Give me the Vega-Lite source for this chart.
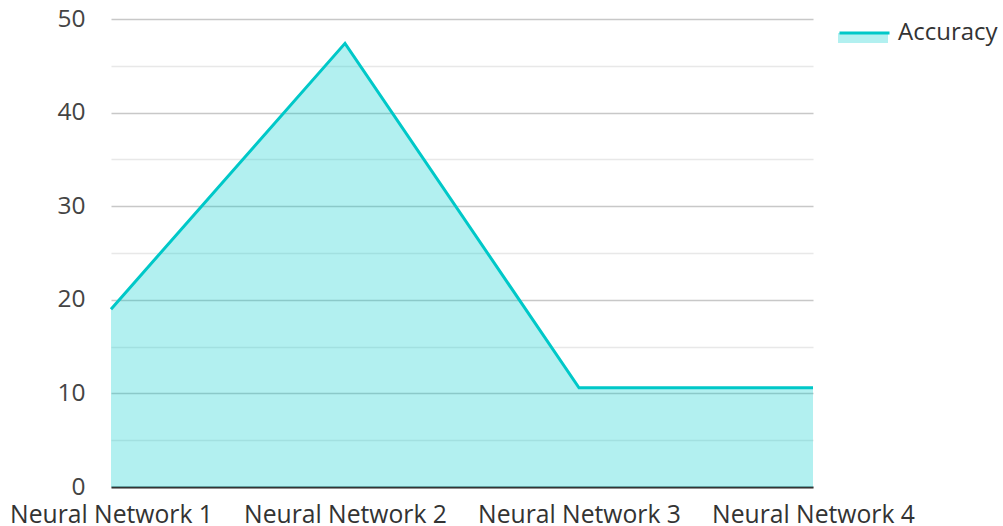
{
  "$schema": "https://vega.github.io/schema/vega-lite/v6.json",
  "width": 702,
  "height": 468,
  "autosize": "none",
  "padding": {"left": 111, "top": 19, "right": 190, "bottom": 39},
  "background": "white",
  "config": {
    "view": {"stroke": null},
    "font": "Open Sans",
    "axis": {"labelFont": "Open Sans", "labelFontSize": 24.5, "title": null, "labelLimit": 0}
  },
  "data": {
    "values": [
      {"model": "Neural Network 1", "accuracy": 19.0, "series": "Accuracy"},
      {"model": "Neural Network 2", "accuracy": 47.4, "series": "Accuracy"},
      {"model": "Neural Network 3", "accuracy": 10.6, "series": "Accuracy"},
      {"model": "Neural Network 4", "accuracy": 10.6, "series": "Accuracy"}
    ]
  },
  "encoding": {
    "x": {
      "field": "model", "type": "ordinal",
      "scale": {"type": "point", "padding": 0},
      "axis": {"labelAngle": 0, "ticks": false, "domainColor": "#333333", "domainWidth": 2, "labelColor": "#333333", "labelPadding": 15, "labelLimit": 0, "labelOverlap": false, "grid": false, "labelFontSize": 24.7}
    },
    "y": {
      "field": "accuracy", "type": "quantitative",
      "scale": {"domain": [0, 50], "nice": false},
      "axis": {
        "values": [0, 5, 10, 15, 20, 25, 30, 35, 40, 45, 50],
        "labelExpr": "datum.value % 10 === 0 ? datum.label : ''",
        "ticks": false, "domain": false, "labelColor": "#444444", "labelPadding": 26,
        "gridColor": {"condition": {"test": "datum.value % 10 === 0", "value": "#c8c8c8"}, "value": "#e8e8e8"},
        "gridWidth": 1.5
      }
    }
  },
  "layer": [
    {
      "mark": {"type": "area", "fillOpacity": 0.3},
      "encoding": {
        "fill": {"field": "series", "type": "nominal", "scale": {"range": ["#00cccc"]},
          "legend": {"orient": "none", "legendX": 727, "legendY": -13, "title": null, "padding": 0,
            "symbolType": "M-1,0.08H1V0.48H-1Z", "symbolSize": 2500, "symbolOpacity": 0.3, "symbolStrokeWidth": 0,
            "labelFontSize": 24, "labelColor": "#333333", "labelOffset": 7, "labelFont": "Open Sans", "labelExpr": "''"}}
      }
    },
    {
      "mark": {"type": "line", "strokeWidth": 3},
      "encoding": {
        "stroke": {"field": "series", "type": "nominal", "scale": {"range": ["#00c8c8"]},
          "legend": {"orient": "none", "legendX": 727, "legendY": -13, "title": null, "padding": 0,
            "symbolType": "M-1,0.02H1", "symbolSize": 2500, "symbolStrokeWidth": 3,
            "labelFontSize": 24, "labelColor": "#333333", "labelOffset": 7, "labelFont": "Open Sans", "labelLimit": 0}}
      }
    }
  ]
}
